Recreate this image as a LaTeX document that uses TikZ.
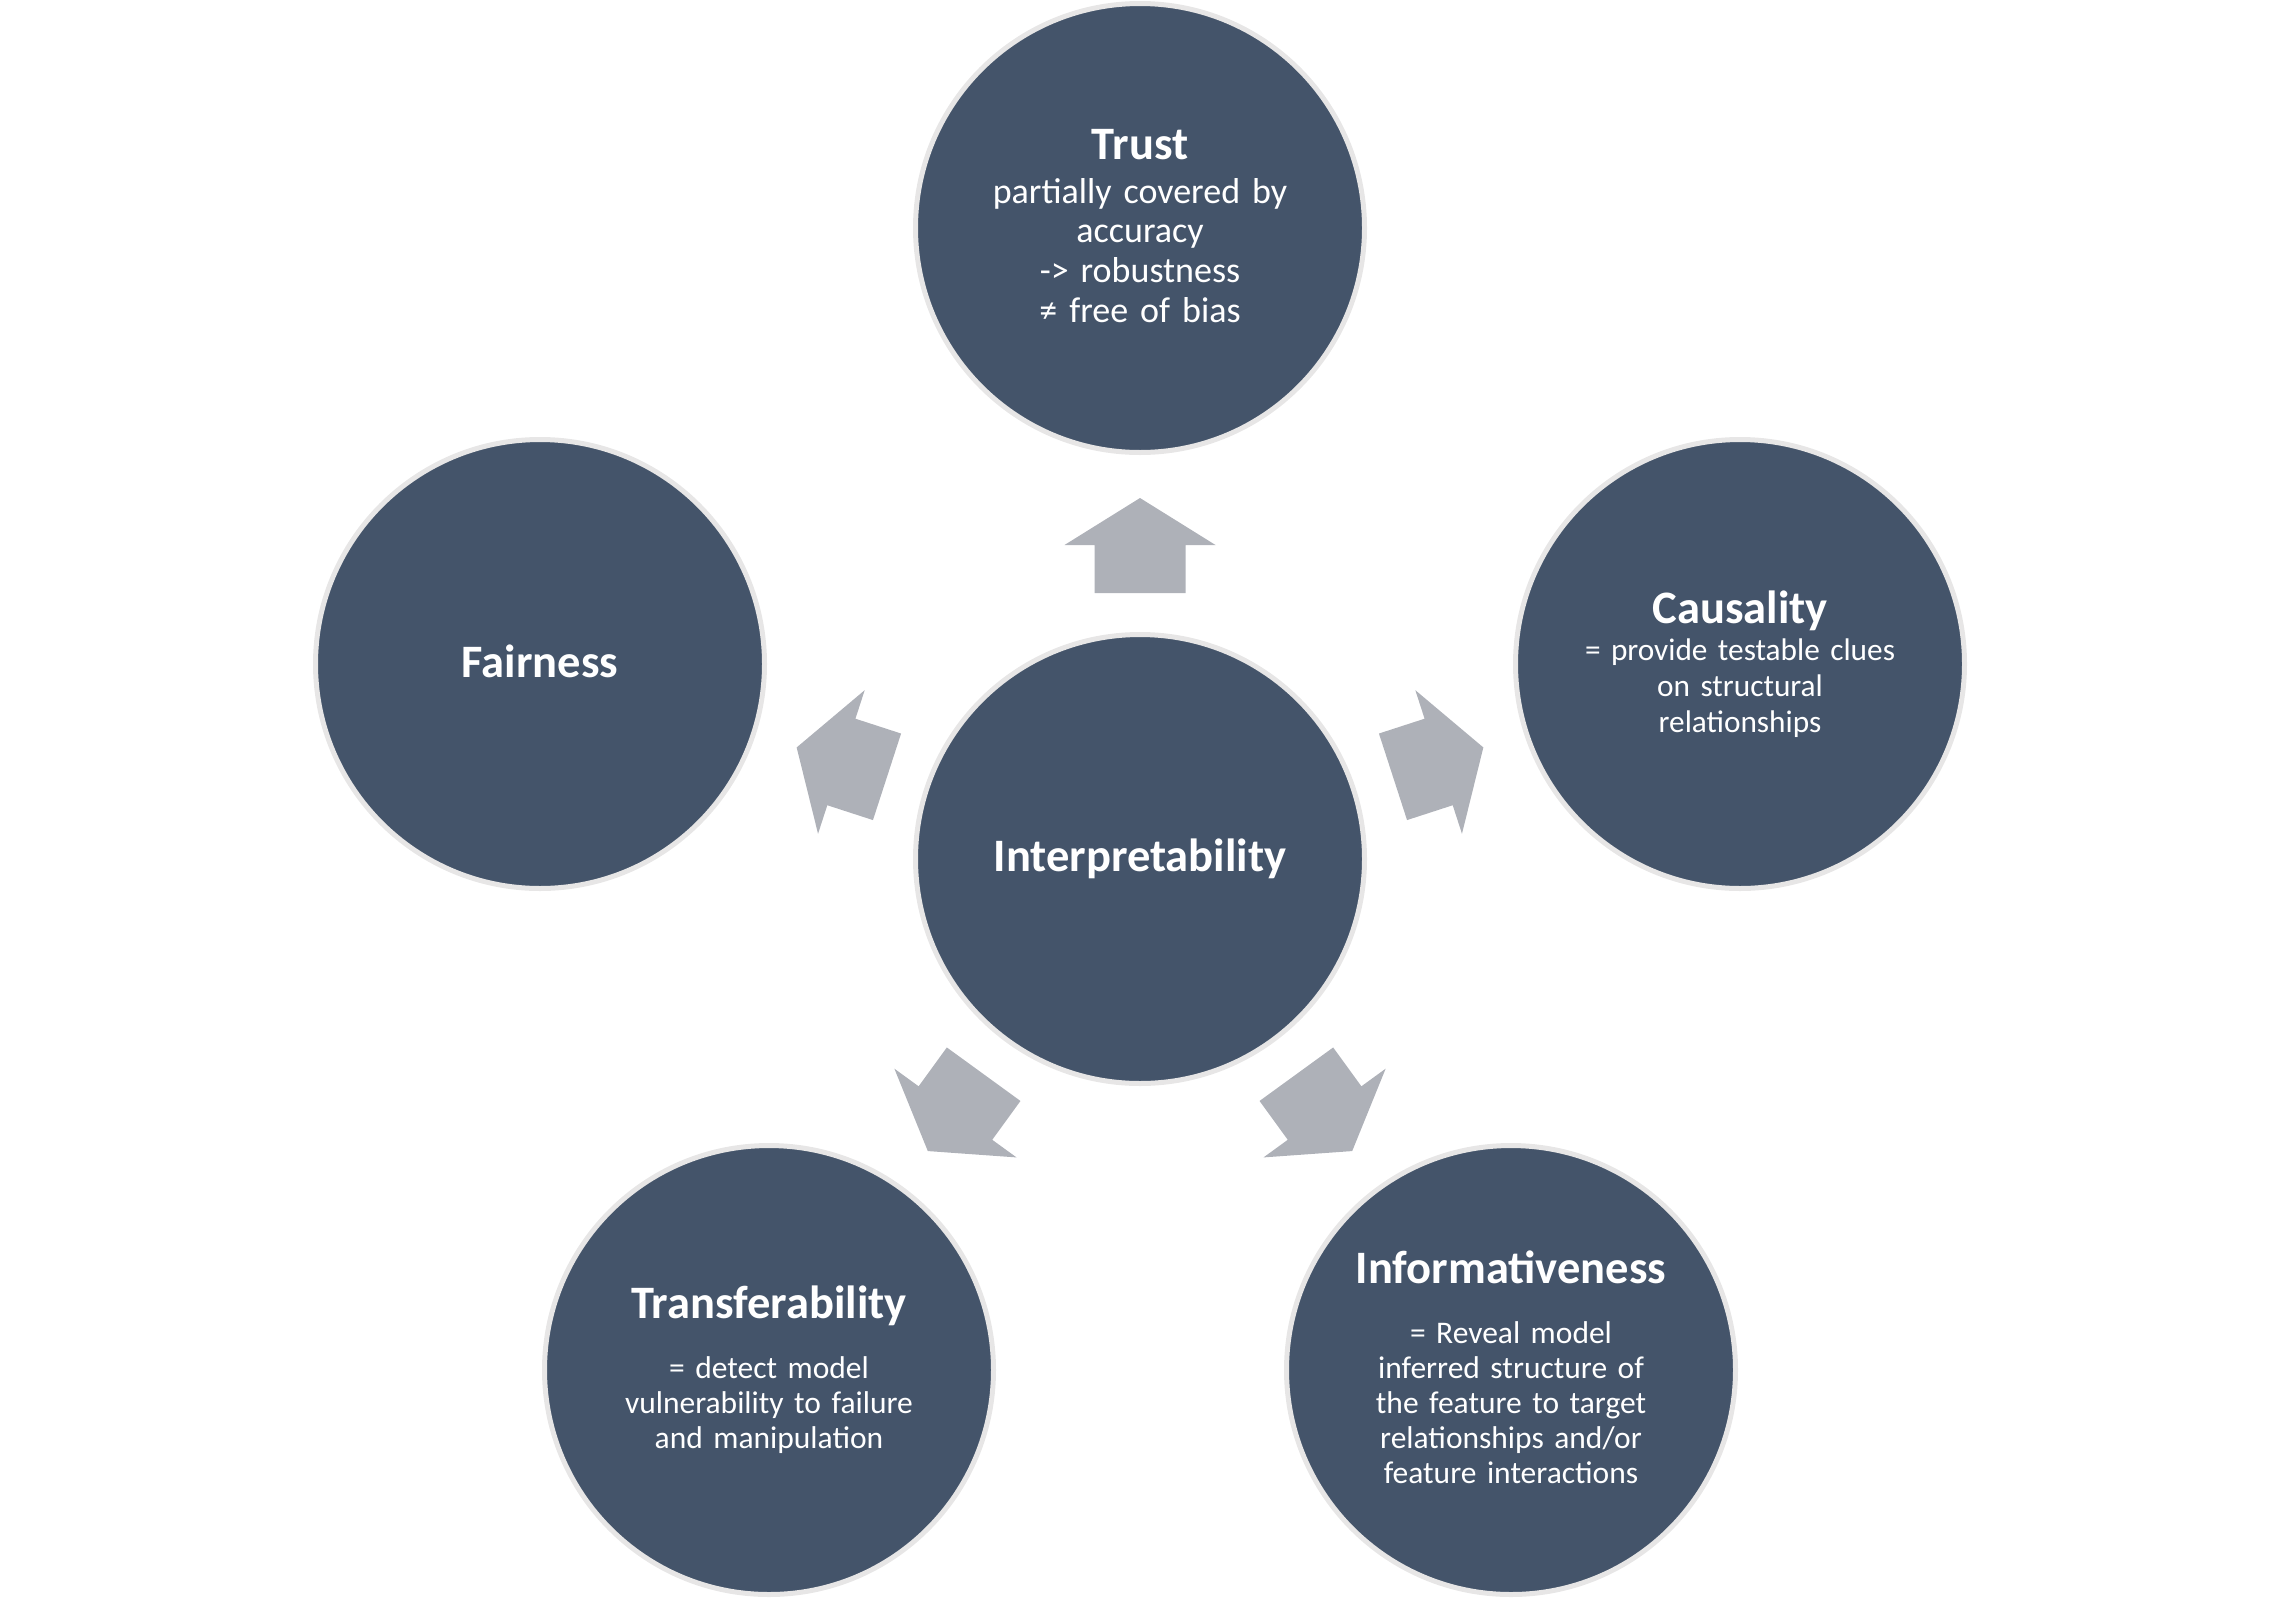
\documentclass[tikz,border=0pt]{standalone}
\usepackage{fontspec}
\setmainfont{Carlito}
\usetikzlibrary{calc}
\definecolor{discfill}{HTML}{44546A}
\definecolor{discring}{HTML}{E7E6E6}
\definecolor{blockarrow}{HTML}{AEB1B8}
\begin{document}
\begin{tikzpicture}[x=1pt,y=-1pt,
  disc/.style={circle, fill=discfill, draw=discring, line width=5pt, minimum size=449pt, inner sep=0pt},
  ttl/.style={anchor=base, text=white, inner sep=0pt, font=\fontsize{46.5}{52}\selectfont\bfseries},
  bodytxt/.style={anchor=base, text=white, align=center, text width=440pt, inner sep=0pt, font=\fontsize{31.5}{35}\selectfont},
  bigbody/.style={bodytxt, font=\fontsize{36}{39.7}\selectfont}]
\useasboundingbox (0,0) rectangle (2277,1598);
% discs
\node[disc] (ctr)   at (1140,859)  {};
\node[disc] (trust) at (1140,228)  {};
\node[disc] (fair)  at (540,664)   {};
\node[disc] (caus)  at (1740,664)  {};
\node[disc] (trans) at (769,1370)  {};
\node[disc] (info)  at (1511,1370) {};
% block arrows from the centre disc
\foreach \a in {90,18,162,234,306}{
  \begin{scope}[shift={(ctr.center)}, rotate=\a]
    \fill[blockarrow] (266,-45.5) -- (314,-45.5) -- (314,-75.5) -- (361,0)
      -- (314,75.5) -- (314,45.5) -- (266,45.5) -- cycle;
  \end{scope}}
% texts
\node[ttl] (ctrT) at (1140,871) {Interpretability};
\node[ttl] (trustT) at (1140,159) {Trust};
\node[bigbody] (trustB) at (1140,203) {partially covered by\\accuracy\\-> robustness\\≠ free of bias};
\node[ttl] (fairT) at (540,677) {Fairness};
\node[ttl] (causT) at (1740,623) {Causality};
\node[bodytxt, font=\fontsize{31.3}{36}\selectfont] (causB) at (1740,660) {= provide testable clues\\on structural\\relationships};
\node[ttl] (transT) at (769,1318) {Transferability};
\node[bodytxt] (transB) at (769,1378) {= detect model\\vulnerability to failure\\and manipulation};
\node[ttl] (infoT) at (1511,1283) {Informativeness};
\node[bodytxt] (infoB) at (1511,1343) {= Reveal model\\inferred structure of\\the feature to target\\relationships and/or\\feature interactions};
\end{tikzpicture}
\end{document}
